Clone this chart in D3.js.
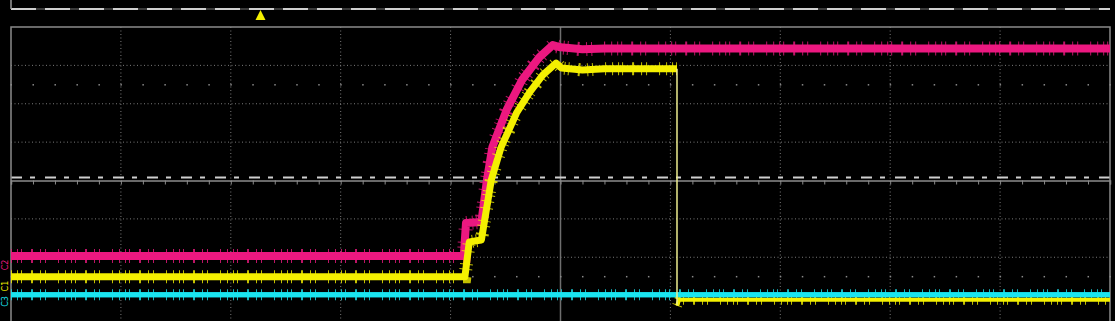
<!DOCTYPE html>
<html>
<head>
<meta charset="utf-8">
<script src="https://cdn.jsdelivr.net/npm/d3@7"></script>
<style>
  html, body { margin: 0; padding: 0; background: #000; }
  svg { display: block; }
</style>
</head>
<body>
<div id="scope"></div>
<script>
// time in divisions (0..10), level in divisions (-4..4)
var magentaT = [0, 4.12, 4.14, 4.28, 4.33, 4.38, 4.51, 4.65, 4.81, 4.93, 5.0, 5.2, 5.4, 10];
var magentaV = [-1.97, -1.97, -1.11, -1.08, 0.0, 0.87, 1.84, 2.62, 3.22, 3.53, 3.47, 3.42, 3.44, 3.44];

var yellowT = [0, 4.13, 4.17, 4.28, 4.37, 4.46, 4.60, 4.72, 4.84, 4.96, 5.01, 5.2, 5.4, 6.06];
var yellowV = [-2.51, -2.51, -1.60, -1.55, 0.01, 0.87, 1.76, 2.30, 2.75, 3.06, 2.93, 2.88, 2.91, 2.91];
var yellowOffT = [6.06, 6.08, 10];
var yellowOffV = [-3.26, -3.11, -3.11];

var cyanT = [0, 10];
var cyanV = [-2.98, -2.98];

var triggerT = 2.27;
var cursorV = 0.08;
var channelLabels = ["C2", "C1", "C3"];
var channelLevels = [-2.2, -2.75, -3.15];
var channelColors = ["#ec1880", "#f4f000", "#1ae4f0"];

var width = 1115, height = 321;

var svg = d3.select("#scope").append("svg")
    .attr("width", width)
    .attr("height", height)
    .style("background", "#000");

var x = d3.scaleLinear().domain([0, 10]).range([11, 1110]);
var y = d3.scaleLinear().domain([-4, 4]).range([334, 27]);

// graticule
var grid = svg.append("g");
d3.range(1, 10).forEach(function(d) {
    grid.append("line")
        .attr("x1", x(d)).attr("x2", x(d))
        .attr("y1", y(4)).attr("y2", height)
        .attr("stroke", d == 5 ? "#6e6e6e" : "#7a7a7a")
        .attr("stroke-width", d == 5 ? 1.5 : 1)
        .attr("stroke-dasharray", d == 5 ? null : "1,2.5");
});
[3, 2, 1, -1, -2, -3].forEach(function(v) {
    grid.append("line")
        .attr("x1", x(0)).attr("x2", x(10))
        .attr("y1", y(v)).attr("y2", y(v))
        .attr("stroke", "#7a7a7a")
        .attr("stroke-dasharray", "1,2.5");
});
// minor dot rows
[2.5, -2.5].forEach(function(v) {
    grid.selectAll(null)
        .data(d3.range(0, 10.001, 0.2))
        .enter().append("rect")
        .attr("x", function(d) { return x(d) - 0.5; })
        .attr("y", y(v) - 0.5)
        .attr("width", 1.5).attr("height", 1.5)
        .attr("fill", "#8a8a8a");
});

// centre axis with ticks
var centerAxis = svg.append("g")
    .attr("transform", "translate(0," + y(0) + ")")
    .call(d3.axisBottom(x).ticks(50).tickSize(4).tickFormat(""));
centerAxis.select(".domain").attr("stroke", "#8c8c8c").attr("stroke-width", 1.5);
centerAxis.selectAll(".tick line").attr("stroke", "#8c8c8c");

// cursor line (dash-dot)
svg.append("line")
    .attr("x1", x(0)).attr("x2", x(10))
    .attr("y1", y(cursorV)).attr("y2", y(cursorV))
    .attr("stroke", "#cfcfcf")
    .attr("stroke-width", 2)
    .attr("stroke-dasharray", "11,8,5,10");

// frame
svg.append("path")
    .attr("d", "M" + x(0) + "," + height + "V" + y(4) + "H" + x(10) + "V" + height)
    .attr("fill", "none")
    .attr("stroke", "#8a8a8a")
    .attr("stroke-width", 1.5);

// top record bar
svg.append("line")
    .attr("x1", x(0)).attr("x2", x(10)).attr("y1", 9).attr("y2", 9)
    .attr("stroke", "#3a3a3a").attr("stroke-width", 2);
svg.append("line")
    .attr("x1", x(0)).attr("x2", x(10)).attr("y1", 9).attr("y2", 9)
    .attr("stroke", "#cfcfcf").attr("stroke-width", 2)
    .attr("stroke-dasharray", "25,9");
svg.append("line")
    .attr("x1", x(0)).attr("x2", x(0)).attr("y1", 0).attr("y2", 9)
    .attr("stroke", "#9a9a9a").attr("stroke-width", 1.5);

// trigger marker
var tx = x(triggerT);
svg.append("path")
    .attr("d", "M" + tx + ",10L" + (tx + 5) + ",20L" + (tx - 5) + ",20Z")
    .attr("fill", "#f4f000");

// traces
var line = d3.line()
    .x(function(d) { return x(d[0]); })
    .y(function(d) { return y(d[1]); });

function trace(T, V, color, w) {
    var pts = d3.zip(T, V);
    // noise spikes
    svg.append("path")
        .attr("d", line(pts))
        .attr("fill", "none")
        .attr("stroke", color)
        .attr("stroke-width", w + 6)
        .attr("stroke-dasharray", "1,5,1,3,1,9,2,7,1,4,1,12,1,6")
        .attr("opacity", 0.8);
    svg.append("path")
        .attr("d", line(pts))
        .attr("fill", "none")
        .attr("stroke", color)
        .attr("stroke-width", w)
        .attr("stroke-linejoin", "round");
}

trace(cyanT, cyanV, "#1ae4f0", 5);
trace(yellowOffT, yellowOffV, "#f4f000", 4);
// cyan drawn again over the low yellow
svg.append("path")
    .attr("d", line(d3.zip(cyanT, cyanV)))
    .attr("fill", "none").attr("stroke", "#1ae4f0").attr("stroke-width", 5);
trace(magentaT, magentaV, "#ec1880", 8);
trace(yellowT, yellowV, "#f4f000", 7);

// falling edge of yellow (thin)
svg.append("line")
    .attr("x1", x(yellowT[yellowT.length - 1])).attr("x2", x(yellowOffT[0]))
    .attr("y1", y(yellowV[yellowV.length - 1])).attr("y2", y(yellowOffV[0]))
    .attr("stroke", "#eeee90").attr("stroke-width", 1.5);

// channel labels at left edge
channelLabels.forEach(function(t, i) {
    svg.append("text")
        .attr("transform", "translate(8," + y(channelLevels[i]) + ") rotate(-90)")
        .attr("text-anchor", "middle")
        .attr("font-family", "DejaVu Sans")
        .attr("font-size", 8)
        .attr("fill", channelColors[i])
        .text(t);
});
</script>
</body>
</html>
